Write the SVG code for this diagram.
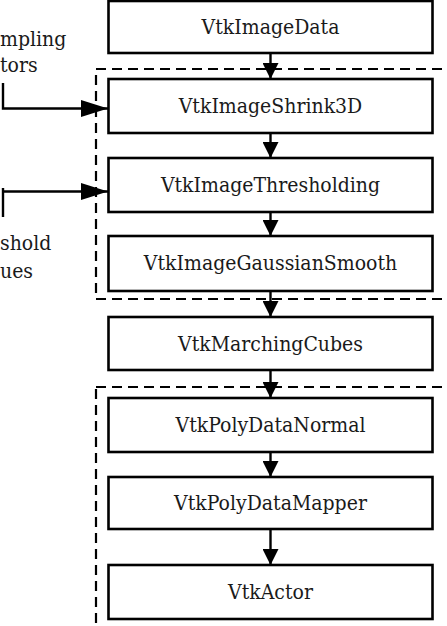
<svg xmlns="http://www.w3.org/2000/svg" width="447" height="626" viewBox="0 0 447 626">
<defs>
<style>
.box{fill:#fff;stroke:#000;stroke-width:2.6}
text{font-family:"DejaVu Serif Condensed","DejaVu Serif",serif;font-stretch:condensed;font-size:21px;fill:#1a1a1a}
.lbl{text-anchor:middle}
.dash{fill:none;stroke:#000;stroke-width:2.2;stroke-dasharray:10 6}
.ln{fill:none;stroke:#000;stroke-width:2.4}
</style>
<marker id="av" markerWidth="16" markerHeight="16" refX="16" refY="8" orient="auto" markerUnits="userSpaceOnUse">
<path d="M0,0 L16,8 L0,16 Z" fill="#000"/>
</marker>
<marker id="ah" markerWidth="27" markerHeight="17" refX="27" refY="8.5" orient="auto" markerUnits="userSpaceOnUse">
<path d="M0,0 L27,8.5 L0,17 Z" fill="#000"/>
</marker>
</defs>
<rect width="447" height="626" fill="#fff"/>
<g id="groups">
<rect class="dash" x="96" y="69" width="370" height="230"/>
<rect class="dash" x="96" y="387" width="370" height="260"/>
</g>
<g id="connectors">
<line class="ln" x1="270.5" y1="53" x2="270.5" y2="79" marker-end="url(#av)"/>
<line class="ln" x1="270.5" y1="133" x2="270.5" y2="158" marker-end="url(#av)"/>
<line class="ln" x1="270.5" y1="212" x2="270.5" y2="236" marker-end="url(#av)"/>
<line class="ln" x1="270.5" y1="291" x2="270.5" y2="317" marker-end="url(#av)"/>
<line class="ln" x1="270.5" y1="370" x2="270.5" y2="398" marker-end="url(#av)"/>
<line class="ln" x1="270.5" y1="452" x2="270.5" y2="477" marker-end="url(#av)"/>
<line class="ln" x1="270.5" y1="529" x2="270.5" y2="565" marker-end="url(#av)"/>
<polyline class="ln" points="3,83 3,108.5 108,108.5" marker-end="url(#ah)"/>
<line class="ln" x1="3" y1="188" x2="3" y2="217"/>
<line class="ln" x1="3" y1="191.5" x2="108" y2="191.5" marker-end="url(#ah)"/>
</g>
<g id="side-labels">
<text x="0" y="46">mpling</text>
<text x="0" y="72">tors</text>
<text x="0" y="250">shold</text>
<text x="0" y="278">ues</text>
</g>
<g id="n1"><rect class="box" x="108.5" y="1" width="324" height="52"/><text class="lbl" x="270.5" y="34">VtkImageData</text></g>
<g id="n2"><rect class="box" x="108.5" y="79" width="324" height="54"/><text class="lbl" x="270.5" y="113">VtkImageShrink3D</text></g>
<g id="n3"><rect class="box" x="108.5" y="158" width="324" height="54"/><text class="lbl" x="270.5" y="192">VtkImageThresholding</text></g>
<g id="n4"><rect class="box" x="108.5" y="236" width="324" height="55"/><text class="lbl" x="270.5" y="270">VtkImageGaussianSmooth</text></g>
<g id="n5"><rect class="box" x="108.5" y="317" width="324" height="53"/><text class="lbl" x="270.5" y="351">VtkMarchingCubes</text></g>
<g id="n6"><rect class="box" x="108.5" y="398" width="324" height="54"/><text class="lbl" x="270.5" y="432">VtkPolyDataNormal</text></g>
<g id="n7"><rect class="box" x="108.5" y="477" width="324" height="52"/><text class="lbl" x="270.5" y="510">VtkPolyDataMapper</text></g>
<g id="n8"><rect class="box" x="108.5" y="565" width="324" height="54"/><text class="lbl" x="270.5" y="599">VtkActor</text></g>
</svg>
